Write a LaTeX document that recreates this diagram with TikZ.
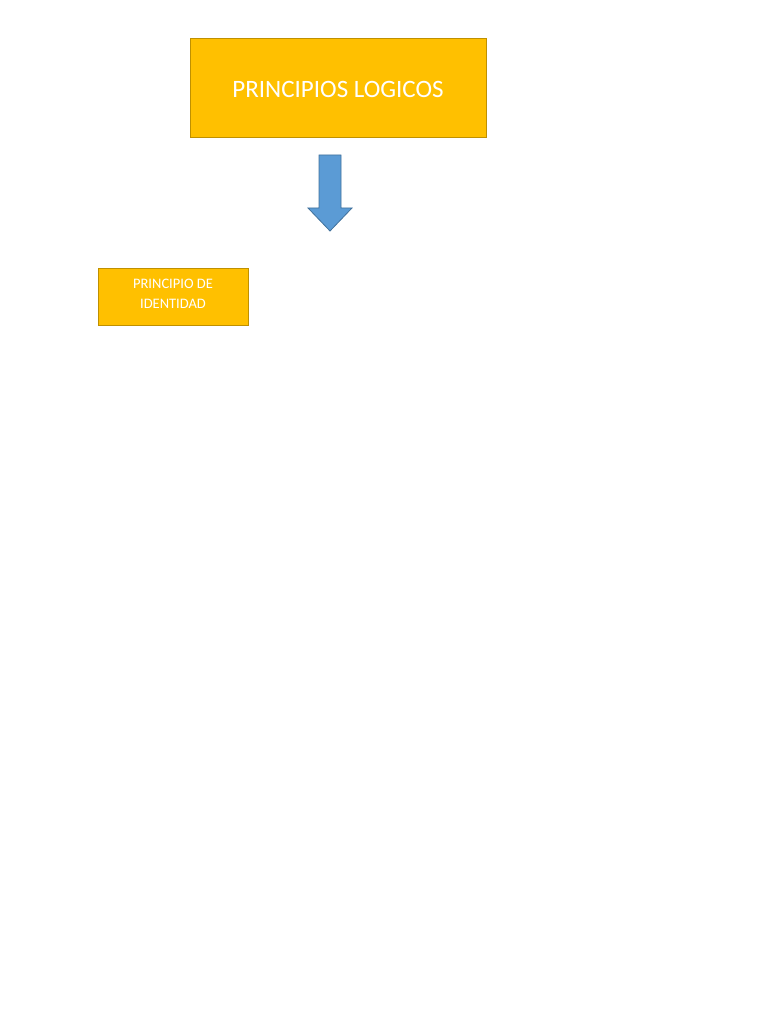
\documentclass[tikz,border=0pt]{standalone}
\usepackage{fontspec}
\setmainfont{Carlito}
\definecolor{boxfill}{HTML}{FFC000}
\definecolor{boxline}{HTML}{BF9000}
\definecolor{arrfill}{HTML}{5B9BD5}
\definecolor{arrline}{HTML}{41719C}
\begin{document}
\begin{tikzpicture}[x=1pt,y=-1pt,
  box/.style={draw=boxline, fill=boxfill, line width=0.8pt, text=white, align=center, inner sep=0pt},
  lbl/.style={text=white, align=center, inner sep=0pt},
  blockarrow/.style={draw=arrline, fill=arrfill, line width=0.8pt, line join=miter}]
\useasboundingbox (0,0) rectangle (768,1024);
\node[box, minimum width=296pt, minimum height=99pt] (top) at (338,87.5) {};
\node[lbl, font=\fontsize{25}{30}\selectfont] (toptext) at (338,89.5) {PRINCIPIOS LOGICOS};
\node[box, minimum width=150pt, minimum height=57pt] (ident) at (173,296.5) {};
\node[lbl, font=\fontsize{14.5}{20}\selectfont] (identtext) at (173,293.5) {PRINCIPIO DE\\IDENTIDAD};
\draw[blockarrow] (319,155) -- (341,155) -- (341,208) -- (352,208) -- (330,231) -- (308,208) -- (319,208) -- cycle;
\end{tikzpicture}
\end{document}
